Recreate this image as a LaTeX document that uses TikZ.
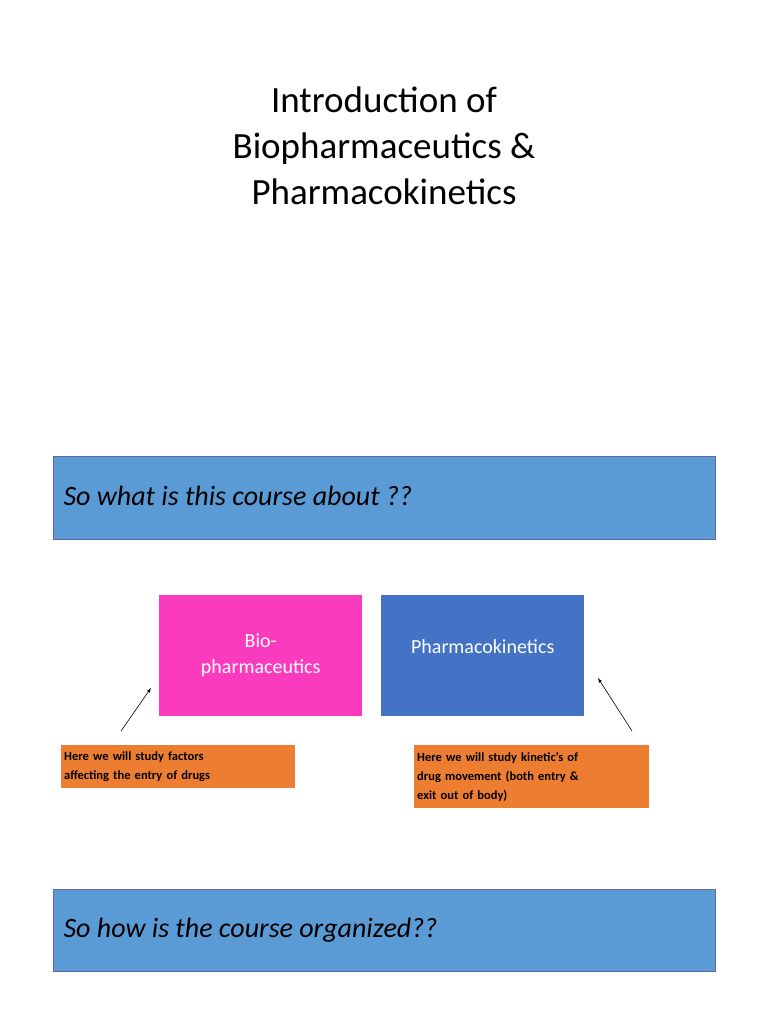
\documentclass[tikz,border=0pt]{standalone}
\usepackage{fontspec}
\setmainfont{Carlito}
\begin{document}
\begin{tikzpicture}[x=1pt,y=-1pt,
  band/.style={draw=blue!40!black!60, fill=bandblue, line width=0.6pt},
  bigbox/.style={minimum width=203pt, minimum height=121pt, anchor=north west, text=white, font=\fontsize{20}{26}\selectfont, align=center},
  note/.style={fill=noteorange, anchor=north west, font=\bfseries\fontsize{12.5}{19}\selectfont, align=left, inner sep=0pt},
  arr/.style={-latex, line width=0.6pt}]
\definecolor{bandblue}{HTML}{5B9BD5}
\definecolor{pinkc}{HTML}{FA3BBE}
\definecolor{pkblue}{HTML}{4472C4}
\definecolor{noteorange}{HTML}{ED7D31}
\useasboundingbox (0,0) rectangle (768,1024);
\node (title) at (384,146) [align=center, font=\fontsize{37}{46}\selectfont] {Introduction of\\Biopharmaceutics \&\\Pharmacokinetics};
\draw[band] (53,456) rectangle (715,539);
\node (q1) at (60,496) [anchor=west, font=\itshape\fontsize{28}{34}\selectfont] {So what is this course about ??};
\node (bio) at (159,595) [bigbox, fill=pinkc] {Bio-\\pharmaceutics};
\node (pk) at (381,595) [bigbox, fill=pkblue, text depth=18pt] {Pharmacokinetics};
\node (n1) at (61,745) [note, minimum width=234pt, minimum height=43pt, text width=228pt, inner xsep=3pt] {Here we will study factors\\affecting the entry of drugs};
\node (n2) at (414,745) [note, minimum width=235pt, minimum height=63pt, text width=229pt, inner xsep=3pt] {Here we will study kinetic’s of\\drug movement (both entry \&\\exit out of body)};
\coordinate (a1s) at (121,731); \coordinate (a1e) at (151,688);
\coordinate (a2s) at (632,731); \coordinate (a2e) at (598,678);
\draw[arr] (a1s) -- (a1e);
\draw[arr] (a2s) -- (a2e);
\draw[band] (53,889) rectangle (715,971);
\node (q2) at (60,930) [anchor=west, font=\itshape\fontsize{28}{34}\selectfont] {So how is the course organized??};
\end{tikzpicture}
\end{document}
